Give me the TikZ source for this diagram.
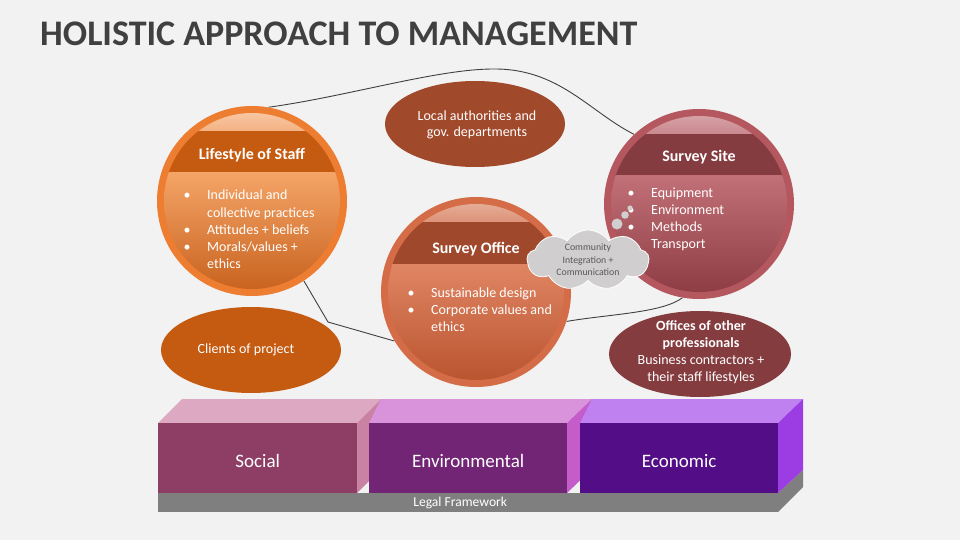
\documentclass[tikz,border=0pt]{standalone}
\usepackage{fontspec}
\setmainfont{Carlito}
\usetikzlibrary{shapes.geometric,shapes.symbols}
\definecolor{bg}{HTML}{F2F2F2}
\definecolor{titlegray}{HTML}{404040}
\definecolor{linegray}{HTML}{404040}
\definecolor{cloudgray}{HTML}{D0CECE}
\definecolor{cloudtext}{HTML}{595959}
\definecolor{locbrown}{HTML}{A0492B}
\definecolor{cliorange}{HTML}{C55A11}
\definecolor{offmaroon}{HTML}{843C3F}
\definecolor{socF}{HTML}{8E3D64}
\definecolor{socT}{HTML}{DDA9C2}
\definecolor{socR}{HTML}{C981A4}
\definecolor{envF}{HTML}{722475}
\definecolor{envT}{HTML}{D993DB}
\definecolor{envR}{HTML}{C45DC9}
\definecolor{ecoF}{HTML}{530E87}
\definecolor{ecoT}{HTML}{BF80F0}
\definecolor{ecoR}{HTML}{9C3DE3}
\definecolor{legalG}{HTML}{7F7F7F}
% circle colours
\definecolor{lsRing}{HTML}{ED7D31}
\definecolor{lsCapT}{HTML}{F8C9A6}
\definecolor{lsCapB}{HTML}{F4B183}
\definecolor{lsBand}{HTML}{C55A11}
\definecolor{lsBodT}{HTML}{F4A467}
\definecolor{lsBodB}{HTML}{C8621E}
\definecolor{soRing}{HTML}{D36C47}
\definecolor{soCapT}{HTML}{E6AE98}
\definecolor{soCapB}{HTML}{DC9378}
\definecolor{soBand}{HTML}{A0482B}
\definecolor{soBodT}{HTML}{E08563}
\definecolor{soBodB}{HTML}{B9542F}
\definecolor{ssRing}{HTML}{B4575E}
\definecolor{ssCapT}{HTML}{D8A4A9}
\definecolor{ssCapB}{HTML}{C8888E}
\definecolor{ssBand}{HTML}{843C40}
\definecolor{ssBodT}{HTML}{C27077}
\definecolor{ssBodB}{HTML}{8D3C43}
\newcommand\bigdisc[8]{%
  \fill[#3] (#1,#2) circle[radius=95pt];
  \begin{scope}
    \clip (#1,#2) circle[radius=88pt];
    \shade[top color=#4, bottom color=#5] (#1-90,#2-90) rectangle (#1+90,#2-70);
    \fill[#6] (#1-90,#2-70) rectangle (#1+90,#2-28);
    \shade[top color=#7, bottom color=#8] (#1-90,#2-28) rectangle (#1+90,#2+90);
  \end{scope}}
\begin{document}
\begin{tikzpicture}[x=1pt,y=-1pt,
  wt/.style={text=white, inner sep=0pt, anchor=base west, font=\fontsize{14}{17}\selectfont},
  bul/.style={text=white, inner sep=0pt, anchor=base, font=\fontsize{14}{17}\selectfont},
  hd/.style={text=white, inner sep=0pt, anchor=base, font=\bfseries\fontsize{16}{19}\selectfont},
  conn/.style={draw=linegray, line width=0.9pt},
  oval/.style={ellipse, minimum width=180pt, minimum height=86pt, inner sep=0pt},
  ovtxt/.style={text=white, align=center, inner sep=0pt, font=\fontsize{14}{16.5}\selectfont},
  disc/.style={circle, minimum size=190pt, inner sep=0pt},
  front/.style={rectangle, anchor=north west, inner sep=0pt, text=white, text height=19pt, text depth=0pt, font=\fontsize{19}{22}\selectfont},
  bubble/.style={fill=cloudgray}
  ]
\fill[bg] (0,0) rectangle (960,540);
\useasboundingbox (0,0) rectangle (960,540);

% title
\node[anchor=west, inner sep=0pt, font=\bfseries\fontsize{36}{40}\selectfont, text=titlegray] (title) at (40,34) {HOLISTIC APPROACH TO MANAGEMENT};

% named circle nodes (for connectors)
\node[disc] (life) at (252,201) {};
\node[disc] (office) at (476,292) {};
\node[disc] (site) at (699,204) {};

% connectors
\draw[conn] (life.80) .. controls (350,96) and (440,68) .. (497,69) .. controls (560,70) and (590,112) .. (site.133);
\draw[conn] (life.-57) -- (328,322) -- (office.-149);
\draw[conn] (office.-18) .. controls (610,314) and (662,313) .. (site.-100);

% ellipses
\node[oval, fill=locbrown] (local) at (475,124) {};
\node[ovtxt] (localtxt) at (477,125) {Local authorities and\\gov. departments};
\node[oval, fill=cliorange] (clients) at (251,350) {};
\node[ovtxt] (clientstxt) at (246,350) {Clients of project};
\node[oval, fill=offmaroon, minimum width=182pt, minimum height=86pt] (offices) at (700,354) {};
\node[ovtxt, font=\fontsize{14}{17}\selectfont] (officestxt) at (701,352) {\textbf{Offices of other}\\\textbf{professionals}\\Business contractors +\\their staff lifestyles};

% discs
\bigdisc{252}{201}{lsRing}{lsCapT}{lsCapB}{lsBand}{lsBodT}{lsBodB}
\bigdisc{699}{204}{ssRing}{ssCapT}{ssCapB}{ssBand}{ssBodT}{ssBodB}
\bigdisc{476}{292}{soRing}{soCapT}{soCapB}{soBand}{soBodT}{soBodB}

% Lifestyle of Staff text
\node[hd] (lh) at (252,160) {Lifestyle of Staff};
\node[bul] (lb1) at (187,200) {•};
\node[bul] (lb2) at (187,234) {•};
\node[bul] (lb3) at (187,251) {•};
\node[wt] (lt1) at (207,200) {Individual and};
\node[wt] (lt2) at (207,217) {collective practices};
\node[wt] (lt3) at (207,234) {Attitudes + beliefs};
\node[wt] (lt4) at (207,251) {Morals/values +};
\node[wt] (lt5) at (207,268) {ethics};

% Survey Site text
\node[hd] (sh) at (699,162) {Survey Site};
\node[bul] (sb1) at (631,197) {•};
\node[bul] (sb2) at (631,214) {•};
\node[bul] (sb3) at (631,231) {•};
\node[wt] (st1) at (651,197) {Equipment};
\node[wt] (st2) at (651,214) {Environment};
\node[wt] (st3) at (651,231) {Methods};
\node[wt] (st4) at (651,248) {Transport};

% Survey Office text
\node[hd] (oh) at (476,253) {Survey Office};
\node[bul] (ob1) at (411,297) {•};
\node[bul] (ob2) at (411,314) {•};
\node[wt] (ot1) at (431,297) {Sustainable design};
\node[wt] (ot2) at (431,314) {Corporate values and};
\node[wt] (ot3) at (431,331) {ethics};

% cloud
\node[cloud, cloud puffs=9, cloud puff arc=110, aspect=2.1, minimum width=122pt, minimum height=60pt, inner sep=0pt, fill=cloudgray, draw=white, line width=0.8pt] (cloud) at (588,260) {};
\node[align=center, inner sep=0pt, text=cloudtext, font=\fontsize{9.8}{12.5}\selectfont] (cloudtxt) at (588,260) {Community\\Integration +\\Communication};
\fill[bubble] (617,224) circle[radius=5.5pt];
\fill[bubble] (625,215) circle[radius=3.8pt];
\fill[bubble] (630,208) circle[radius=2.6pt];

% 3D boxes
\fill[legalG] (778,493) -- (803,470) -- (803,487) -- (778,512) -- cycle;
\node[rectangle, anchor=north west, inner sep=0pt, fill=legalG, minimum width=620pt, minimum height=19pt, text=white, font=\fontsize{13.6}{15}\selectfont] (legal) at (158,493) {Legal Framework\hspace*{16pt}};

\fill[socT] (158,423) -- (182,399) -- (381,399) -- (357,423) -- cycle;
\fill[socR] (357,423) -- (381,399) -- (381,469) -- (357,493) -- cycle;
\node[front, fill=socF, minimum width=199pt, minimum height=70pt] (social) at (158,423) {Social};

\fill[envT] (369,423) -- (381,399) -- (592,399) -- (567,423) -- cycle;
\fill[envR] (567,423) -- (592,399) -- (592,469) -- (567,493) -- cycle;
\node[front, fill=envF, minimum width=198pt, minimum height=70pt] (environ) at (369,423) {Environmental};

\fill[ecoT] (580,423) -- (592,399) -- (803,399) -- (778,423) -- cycle;
\fill[ecoR] (778,423) -- (803,399) -- (803,470) -- (778,493) -- cycle;
\node[front, fill=ecoF, minimum width=198pt, minimum height=70pt] (economic) at (580,423) {Economic};
\end{tikzpicture}
\end{document}
